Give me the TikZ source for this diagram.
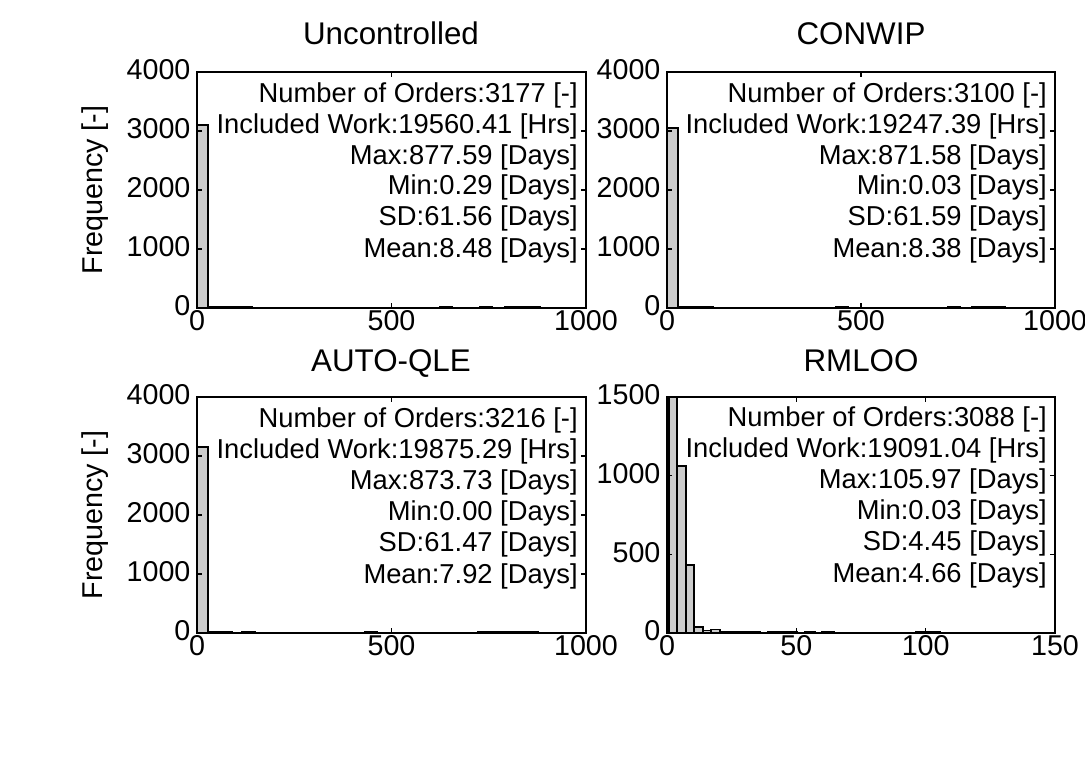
\documentclass[tikz,border=0pt]{standalone}
\usepackage{fontspec}
\setmainfont{Liberation Sans}
\begin{document}
\begin{tikzpicture}[x=0.75pt,y=-0.75pt,
  axbox/.style={draw=black,line width=1.4pt},
  bar/.style={draw=black,fill=black!20,line width=0.9pt},
  tick/.style={line width=0.8pt},
  lab/.style={font=\fontsize{21.5}{23}\selectfont,inner sep=1pt},
  stat/.style={font=\fontsize{20.5}{23}\selectfont,inner sep=0pt,anchor=east},
  ttl/.style={font=\fontsize{23.5}{26}\selectfont,inner sep=0pt,anchor=base}]
\useasboundingbox (0,0) rectangle (1085,784);
\fill[white] (0,0) rectangle (1085,784);
\newcommand\mypanel[6]{% L T R B xticks yticks
  \foreach \p/\l in {#5}{\draw[tick] (\p,#4) -- (\p,#4-5) (\p,#2) -- (\p,#2+5);
     \node[lab,anchor=north] at (\p,#4+1) {\l};}
  \foreach \p/\l in {#6}{\draw[tick] (#1,\p) -- (#1+5,\p) (#3,\p) -- (#3-5,\p);
     \node[lab,anchor=east] at (#1-5,\p-2) {\l};}
  \draw[axbox] (#1,#2) rectangle (#3,#4);
}
% Panel 1
\draw[bar] (197,308) rectangle (208,125);
\foreach \a/\b in {208/252,440/452,480/492,505/540}{\draw[bar] (\a,308) rectangle (\b,306.5);}
\mypanel{197}{72}{586}{308}{197/0,391.5/500,586/1000}{308/0,249/1000,190/2000,131/3000,72/4000}
\node[ttl] (t1) at (391,45) {Uncontrolled};
\node[stat] (s11) at (578,95) {Number of Orders:3177 [-]};
\node[stat] (s12) at (578,126) {Included Work:19560.41 [Hrs]};
\node[stat] (s13) at (578,157) {Max:877.59 [Days]};
\node[stat] (s14) at (578,187) {Min:0.29 [Days]};
\node[stat] (s15) at (578,218) {SD:61.56 [Days]};
\node[stat] (s16) at (578,250) {Mean:8.48 [Days]};
\node[lab,rotate=90] (f1) at (95,190) {Frequency [-]};
% Panel 2
\draw[bar] (667,308) rectangle (678,128);
\foreach \a/\b in {678/713,836/848,948/960,972/1005}{\draw[bar] (\a,308) rectangle (\b,306.5);}
\mypanel{667}{72}{1055}{308}{667/0,861/500,1055/1000}{308/0,249/1000,190/2000,131/3000,72/4000}
\node[ttl] (t2) at (861,45) {CONWIP};
\node[stat] (s21) at (1047,95) {Number of Orders:3100 [-]};
\node[stat] (s22) at (1047,126) {Included Work:19247.39 [Hrs]};
\node[stat] (s23) at (1047,157) {Max:871.58 [Days]};
\node[stat] (s24) at (1047,187) {Min:0.03 [Days]};
\node[stat] (s25) at (1047,218) {SD:61.59 [Days]};
\node[stat] (s26) at (1047,250) {Mean:8.38 [Days]};
% Panel 3
\draw[bar] (197,633) rectangle (208,447);
\foreach \a/\b in {208/232,242/255,365/377,478/538}{\draw[bar] (\a,633) rectangle (\b,631.5);}
\mypanel{197}{397}{586}{633}{197/0,391.5/500,586/1000}{633/0,574/1000,515/2000,456/3000,397/4000}
\node[ttl] (t3) at (391,371) {AUTO-QLE};
\node[stat] (s31) at (578,420) {Number of Orders:3216 [-]};
\node[stat] (s32) at (578,451) {Included Work:19875.29 [Hrs]};
\node[stat] (s33) at (578,482) {Max:873.73 [Days]};
\node[stat] (s34) at (578,513) {Min:0.00 [Days]};
\node[stat] (s35) at (578,544) {SD:61.47 [Days]};
\node[stat] (s36) at (578,576) {Mean:7.92 [Days]};
\node[lab,rotate=90] (f3) at (95,515) {Frequency [-]};
% Panel 4
\draw[bar] (669,633) rectangle (677,397);
\draw[bar] (677,633) rectangle (686,466);
\draw[bar] (686,633) rectangle (694,565);
\draw[bar] (694,633) rectangle (703,627);
\draw[bar] (703,633) rectangle (711,630.5);
\draw[bar] (711,633) rectangle (720,629.5);
\foreach \a/\b in {720/760,768/797,805/815,822/834,916/928,928/940}{\draw[bar] (\a,633) rectangle (\b,631.5);}
\mypanel{667}{397}{1055}{633}{667/0,796.3/50,925.7/100,1055/150}{633/0,554.3/500,475.7/1000,397/1500}
\node[ttl] (t4) at (861,371) {RMLOO};
\node[stat] (s41) at (1047,419) {Number of Orders:3088 [-]};
\node[stat] (s42) at (1047,450) {Included Work:19091.04 [Hrs]};
\node[stat] (s43) at (1047,481) {Max:105.97 [Days]};
\node[stat] (s44) at (1047,512) {Min:0.03 [Days]};
\node[stat] (s45) at (1047,543) {SD:4.45 [Days]};
\node[stat] (s46) at (1047,575) {Mean:4.66 [Days]};
\end{tikzpicture}
\end{document}
